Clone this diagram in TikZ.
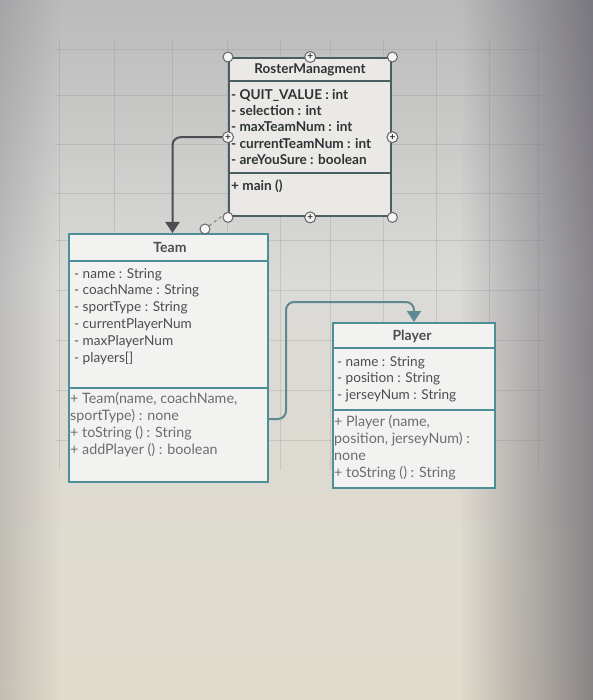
\documentclass[tikz,border=0pt]{standalone}
\usepackage{fontspec}
\setmainfont{Lato}
\usetikzlibrary{arrows.meta,calc,fadings}
\definecolor{bgtop2}{HTML}{8A8A8E}
\definecolor{bgtop}{HTML}{A6A6A8}
\definecolor{bgmid}{HTML}{DADAD7}
\definecolor{bgbot}{HTML}{E2DBC8}
\definecolor{bgbot2}{HTML}{D6CFBA}
\definecolor{vign}{HTML}{4E4A56}
\definecolor{rborder}{HTML}{4A5F62}
\definecolor{tborder}{HTML}{4E8E97}
\definecolor{boxfill}{HTML}{EAE9E6}
\definecolor{txtdark}{HTML}{2E3436}
\definecolor{txtmid}{HTML}{4A4E50}
\definecolor{txtlight}{HTML}{6A6E70}
\definecolor{gridc}{HTML}{7C7C80}
\pgfdeclareverticalshading{bgv}{100bp}{color(0bp)=(bgbot2); color(20bp)=(bgbot); color(55bp)=(bgmid); color(88bp)=(bgtop); color(100bp)=(bgtop2)}
\tikzfading[name=fadeR, left color=transparent!100, right color=transparent!0]
\tikzfading[name=fadeL, left color=transparent!0, right color=transparent!100]
\tikzset{
  rbox/.style={draw=rborder, line width=2.4pt, fill=boxfill, rectangle, inner sep=0pt, anchor=north west},
  tbox/.style={draw=tborder, line width=2pt, fill=boxfill!60!white, rectangle, inner sep=0pt, anchor=north west},
  rsep/.style={draw=rborder, line width=2.2pt},
  tsep/.style={draw=tborder, line width=2pt},
  rtext/.style={font=\fontsize{13.6}{16.3}\selectfont\bfseries, text=txtdark, align=left, inner sep=0pt, anchor=north west},
  ttext/.style={font=\fontsize{13.6}{16.8}\selectfont, text=txtmid, align=left, inner sep=0pt, anchor=north west},
  mtext/.style={font=\fontsize{14.3}{17}\selectfont, text=txtlight, align=left, inner sep=0pt, anchor=north west},
  titletext/.style={font=\fontsize{14}{16}\selectfont\bfseries, text=txtmid, inner sep=0pt},
  handle/.style={circle, draw=gray!80!black, fill=white!92!gray, line width=1pt, minimum size=10pt, inner sep=0pt},
  plushandle/.style={circle, draw=gray!80!black, fill=white!92!gray, line width=1pt, minimum size=11pt, inner sep=0pt, font=\bfseries\fontsize{10}{10}\selectfont, text=gray!40!black},
  conn/.style={line width=2pt, rounded corners=8pt, -{Triangle[width=14pt,length=11pt]}},
}
\begin{document}
\begin{tikzpicture}[x=1pt,y=-1pt]
\useasboundingbox (0,0) rectangle (593,700);
% background photo
\shade[shading=bgv] (0,0) rectangle (593,700);
\fill[vign, path fading=fadeR, opacity=0.6] (460,0) rectangle (593,700);
\fill[vign, path fading=fadeL, opacity=0.2] (0,0) rectangle (60,700);
% faint grid
\begin{scope}[gridc, line width=0.8pt, opacity=0.22]
\foreach \x in {59,114,172,227,280,330,383,436,489,538} \draw (\x,40) -- (\x,470);
\foreach \y in {49,95,144,193,240,290,340,390,440} \draw (55,\y) -- (545,\y);
\end{scope}

% RosterManagment
\node[rbox, minimum width=162pt, minimum height=158pt] (roster) at (228,57) {};
\node[titletext, text=txtdark, font=\fontsize{13.5}{15}\selectfont\bfseries] (rtitle) at (310,70) {RosterManagment};
\draw[rsep] (roster.west |- 0,81) -- (roster.east |- 0,81);
\node[rtext] (rattr) at (231,89) {- QUIT\_VALUE : int\\- selection : int\\- maxTeamNum : int\\- currentTeamNum : int\\- areYouSure : boolean};
\draw[rsep] (roster.west |- 0,173) -- (roster.east |- 0,173);
\node[rtext] (rmeth) at (231,180) {+ main ()};

% Team
\node[tbox, minimum width=199pt, minimum height=248pt] (team) at (68,233) {};
\node[titletext] (ttitle) at (170,247) {Team};
\draw[tsep] (team.west |- 0,261) -- (team.east |- 0,261);
\node[ttext] (tattr) at (74,268) {- name : String\\- coachName : String\\- sportType : String\\- currentPlayerNum\\- maxPlayerNum\\- players[]};
\draw[tsep] (team.west |- 0,388) -- (team.east |- 0,388);
\node[mtext] (tmeth) at (70,392) {+ Team(name, coachName,\\sportType) : none\\+ toString () : String\\+ addPlayer () : boolean};

% Player
\node[tbox, minimum width=162pt, minimum height=165pt] (player) at (332,322) {};
\node[titletext] (ptitle) at (412,336) {Player};
\draw[tsep] (player.west |- 0,348) -- (player.east |- 0,348);
\node[ttext] (pattr) at (337,356) {- name : String\\- position : String\\- jerseyNum : String};
\draw[tsep] (player.west |- 0,410) -- (player.east |- 0,410);
\node[mtext] (pmeth) at (334,415) {+ Player (name,\\position, jerseyNum) :\\none\\+ toString () : String};

% connectors
\draw[conn, draw=txtmid] (roster.west) -| ([xshift=4pt]team.north);
\coordinate (tout) at ([yshift=-61pt]team.east);
\draw[conn, draw=tborder!70!gray] (tout) -- ++(17,0) |- (370,302) -| (player.north);

% selection handles
\draw[gray, line width=1pt, dashed] (226,213) -- (205,229);
\node[handle] (h0) at (205,229) {};
\node[handle] (h1) at (roster.north west) {};
\node[handle] (h2) at (roster.north east) {};
\node[handle] (h3) at (roster.south west) {};
\node[handle] (h4) at (roster.south east) {};
\node[plushandle] (p1) at (roster.north) {+};
\node[plushandle] (p2) at (roster.south) {+};
\node[plushandle] (p3) at (roster.west) {+};
\node[plushandle] (p4) at (roster.east) {+};
\end{tikzpicture}
\end{document}
